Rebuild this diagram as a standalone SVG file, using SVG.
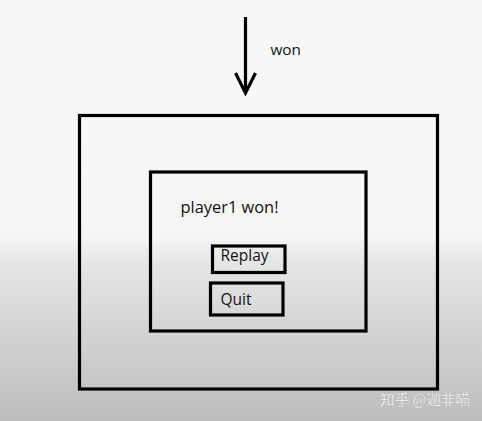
<svg xmlns="http://www.w3.org/2000/svg" width="482" height="421" viewBox="0 0 482 421">
<defs>
<linearGradient id="bg" x1="0" y1="0" x2="0" y2="421" gradientUnits="userSpaceOnUse">
<stop offset="0" stop-color="#f8f8f8"/>
<stop offset="0.56" stop-color="#f6f6f6"/>
<stop offset="0.62" stop-color="#e6e6e6"/>
<stop offset="1" stop-color="#bdbdbd"/>
</linearGradient>
<style>
.box{fill:none;stroke:#000;stroke-width:3.2}
.t{font-family:"Open Sans","Liberation Sans",sans-serif;fill:#111}
</style>
</defs>
<rect width="482" height="421" fill="url(#bg)"/>
<g id="connectors">
<line x1="245.5" y1="17" x2="245.5" y2="92" stroke="#000" stroke-width="3.2"/>
<polyline points="235.5,73 245.5,93 255.5,73" fill="none" stroke="#000" stroke-width="3.2" stroke-linejoin="miter"/>
<text class="t" x="270.5" y="55" font-size="14.5" textLength="30.5" lengthAdjust="spacingAndGlyphs">won</text>
</g>
<g id="outer">
<rect class="box" x="79.5" y="115.5" width="358" height="273.5"/>
</g>
<g id="dialog">
<rect class="box" x="150.5" y="172" width="215.5" height="159"/>
<text class="t" x="180.5" y="213" font-size="16.5" textLength="98" lengthAdjust="spacingAndGlyphs">player1 won!</text>
</g>
<g id="replay">
<rect class="box" x="212.5" y="246" width="72.5" height="26.5"/>
<text class="t" x="220.5" y="261" font-size="16" textLength="48" lengthAdjust="spacingAndGlyphs">Replay</text>
</g>
<g id="quit">
<rect class="box" x="210.5" y="283" width="72.5" height="32"/>
<text class="t" x="220.5" y="305" font-size="16" textLength="31" lengthAdjust="spacingAndGlyphs">Quit</text>
</g>
<text x="380" y="405" font-size="15" fill="#ffffff" stroke="#aaaaaa" stroke-width="0.3" font-family="'Noto Sans CJK SC',sans-serif" textLength="90" lengthAdjust="spacingAndGlyphs">知乎 @迦非喵</text>
</svg>
